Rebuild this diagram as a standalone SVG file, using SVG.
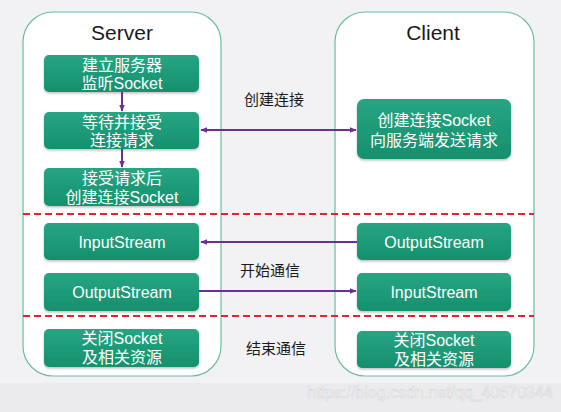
<svg xmlns="http://www.w3.org/2000/svg" width="561" height="412" viewBox="0 0 561 412">
<defs>
<linearGradient id="g" x1="0" y1="0" x2="0" y2="1">
<stop offset="0" stop-color="#27a583"/>
<stop offset="1" stop-color="#15906d"/>
</linearGradient>
<marker id="ah" viewBox="0 0 10 10" refX="9" refY="5" markerWidth="7" markerHeight="7" orient="auto-start-reverse" markerUnits="userSpaceOnUse">
<path d="M0,1 L10,5 L0,9 Z" fill="#6b2f96"/>
</marker>
<filter id="sh" x="-10%" y="-20%" width="120%" height="150%">
<feDropShadow dx="0" dy="1.5" stdDeviation="1.2" flood-color="#000" flood-opacity="0.25"/>
</filter>
</defs>
<style>
text{font-family:"Liberation Sans","Noto Sans CJK SC",sans-serif;}
.box{fill:url(#g);filter:url(#sh);}
.bt{fill:#ffffff;font-size:16px;text-anchor:middle;}
.title{fill:#1a1a1a;font-size:21px;text-anchor:middle;}
.lbl{fill:#1a1a1a;font-size:15px;text-anchor:middle;}
.cont{fill:#ffffff;stroke:#6cbea2;stroke-width:1.2;}
.arr{stroke:#6b2f96;stroke-width:2;fill:none;}
.dash{stroke:#e0252e;stroke-width:2;stroke-dasharray:7,4;fill:none;}
</style>
<rect x="0" y="0" width="561" height="412" fill="#f2f2f4"/>
<rect x="0" y="383" width="561" height="29" fill="#ebebed"/>

<g id="server">
<rect class="cont" x="23" y="12" width="198" height="364" rx="30"/>
<text class="title" x="122" y="40">Server</text>
</g>
<g id="client">
<rect class="cont" x="335" y="12" width="199" height="364" rx="30"/>
<text class="title" x="433" y="40">Client</text>
</g>

<g id="dividers">
<line class="dash" x1="23" y1="214" x2="534" y2="214"/>
<line class="dash" x1="23" y1="316" x2="534" y2="316"/>
</g>

<g id="s1"><rect class="box" x="44" y="55" width="155" height="37" rx="5"/>
<text class="bt" x="122" y="71">建立服务器</text><text class="bt" x="122" y="89">监听Socket</text></g>
<g id="s2"><rect class="box" x="44" y="112" width="155" height="37" rx="5"/>
<text class="bt" x="122" y="128">等待并接受</text><text class="bt" x="122" y="146">连接请求</text></g>
<g id="s3"><rect class="box" x="44" y="168" width="155" height="38" rx="5"/>
<text class="bt" x="122" y="184">接受请求后</text><text class="bt" x="122" y="203">创建连接Socket</text></g>
<g id="s4"><rect class="box" x="44" y="223" width="155" height="37" rx="5"/>
<text class="bt" x="122" y="248">InputStream</text></g>
<g id="s5"><rect class="box" x="44" y="273" width="155" height="38" rx="5"/>
<text class="bt" x="122" y="298">OutputStream</text></g>
<g id="s6"><rect class="box" x="44" y="329" width="155" height="38" rx="5"/>
<text class="bt" x="122" y="344">关闭Socket</text><text class="bt" x="122" y="363">及相关资源</text></g>

<g id="c1"><rect class="box" x="357" y="99" width="154" height="60" rx="7"/>
<text class="bt" x="434" y="126">创建连接Socket</text><text class="bt" x="434" y="146">向服务端发送请求</text></g>
<g id="c2"><rect class="box" x="357" y="223" width="154" height="37" rx="5"/>
<text class="bt" x="434" y="248">OutputStream</text></g>
<g id="c3"><rect class="box" x="357" y="273" width="154" height="38" rx="5"/>
<text class="bt" x="434" y="298">InputStream</text></g>
<g id="c4"><rect class="box" x="357" y="331" width="154" height="37" rx="5"/>
<text class="bt" x="434" y="346">关闭Socket</text><text class="bt" x="434" y="365">及相关资源</text></g>

<g id="connectors">
<line class="arr" x1="122" y1="92" x2="122" y2="111" marker-end="url(#ah)"/>
<line class="arr" x1="122" y1="149" x2="122" y2="167" marker-end="url(#ah)"/>
<line class="arr" x1="201" y1="130" x2="356" y2="130" marker-start="url(#ah)" marker-end="url(#ah)"/>
<line class="arr" x1="357" y1="242" x2="201" y2="242" marker-end="url(#ah)"/>
<line class="arr" x1="199" y1="291" x2="356" y2="291" marker-end="url(#ah)"/>
</g>

<g id="labels">
<text class="lbl" x="274" y="105">创建连接</text>
<text class="lbl" x="270" y="276">开始通信</text>
<text class="lbl" x="276" y="354">结束通信</text>
</g>
<text x="430" y="398" font-size="16" text-anchor="middle" fill="#f7f7f8" stroke="#d6d6da" stroke-width="0.6">https://blog.csdn.net/qq_40670344</text>
</svg>
